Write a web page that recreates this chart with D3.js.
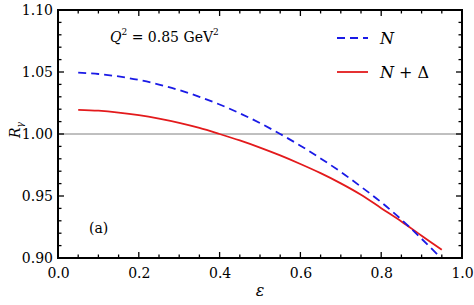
<!DOCTYPE html>
<html><head><meta charset="utf-8">
<script src="https://cdn.jsdelivr.net/npm/d3@7/dist/d3.min.js"></script>
<style>
body{margin:0;background:#fff;}
</style></head>
<body><svg id="c" width="474" height="305"></svg>
<script>
const eps = [0.05,0.10,0.15,0.20,0.25,0.30,0.35,0.40,0.45,0.50,0.55,0.60,0.65,0.70,0.75,0.80,0.85,0.90,0.95];
const seriesN = [1.0495,1.0484,1.0464,1.0436,1.0399,1.0354,1.0300,1.0238,1.0167,1.0088,1.0000,0.9906,0.9803,0.9694,0.9575,0.9450,0.9310,0.9155,0.8993];
const seriesND = [1.0195,1.0188,1.0173,1.0152,1.0124,1.0090,1.0049,1.0000,0.9948,0.9890,0.9827,0.9758,0.9684,0.9602,0.9510,0.9402,0.9295,0.9180,0.9066];
const xTicks = [0,0.2,0.4,0.6,0.8,1.0];
const yTicks = [0.90,0.95,1.00,1.05,1.10];

const FONT = '"DejaVu Serif","Liberation Serif",serif';
const svg = d3.select("#c").attr("font-family",FONT);
const L=58,R=462,T=10,B=258;
const x = d3.scaleLinear().domain([0,1]).range([L,R]);
const y = d3.scaleLinear().domain([0.90,1.10]).range([B,T]);

svg.append("line").attr("x1",L).attr("x2",R).attr("y1",y(1)).attr("y2",y(1))
  .attr("stroke","#808080").attr("stroke-width",1);

svg.append("clipPath").attr("id","cl").append("rect")
  .attr("x",L).attr("y",T).attr("width",R-L).attr("height",B-T);

const line = d3.line().x((d,i)=>x(eps[i])).y(d=>y(d)).curve(d3.curveCatmullRom);
svg.append("path").datum(seriesND).attr("d",line).attr("fill","none")
  .attr("stroke","#e31a1c").attr("stroke-width",1.8).attr("clip-path","url(#cl)");
svg.append("path").datum(seriesN).attr("d",line).attr("fill","none")
  .attr("stroke","#1a1ae6").attr("stroke-width",1.8).attr("stroke-dasharray","8,5").attr("clip-path","url(#cl)");

const minorX = d3.range(0,1.0001,0.05);
const minorY = d3.range(0.90,1.1001,0.01);
function isMajor(v,step){return Math.abs(v/step-Math.round(v/step))<1e-6;}
const bottom = d3.axisBottom(x).tickValues(xTicks).tickFormat(d3.format(".1f")).tickSize(0).tickPadding(10);
const gB = svg.append("g").attr("transform",`translate(0,${B})`).call(bottom);
const left = d3.axisLeft(y).tickValues(yTicks).tickFormat(d3.format(".2f")).tickSize(0).tickPadding(5);
const gL = svg.append("g").attr("transform",`translate(${L},0)`).call(left);
[gB,gL].forEach(g=>{g.select(".domain").remove(); g.attr("font-family",FONT);
  g.selectAll("text").attr("font-size",14).attr("fill","#000");});
gL.selectAll("text").attr("dy","0.35em");

const tk = svg.append("g").attr("stroke","#000").attr("stroke-width",1.3);
minorX.forEach(v=>{
  const len = isMajor(v,0.2)?6:3.5;
  tk.append("line").attr("x1",x(v)).attr("x2",x(v)).attr("y1",B).attr("y2",B-len);
  tk.append("line").attr("x1",x(v)).attr("x2",x(v)).attr("y1",T).attr("y2",T+len);
});
minorY.forEach(v=>{
  const len = isMajor(v-0.9,0.05)?6:3.5;
  tk.append("line").attr("x1",L).attr("x2",L+len).attr("y1",y(v)).attr("y2",y(v));
  tk.append("line").attr("x1",R).attr("x2",R-len).attr("y1",y(v)).attr("y2",y(v));
});
svg.append("rect").attr("x",L).attr("y",T).attr("width",R-L).attr("height",B-T)
  .attr("fill","none").attr("stroke","#000").attr("stroke-width",2);

const yl = svg.append("text").attr("transform",`translate(20,130) rotate(-90)`).attr("text-anchor","middle")
  .attr("font-size",14);
yl.append("tspan").attr("font-style","italic").text("R");
yl.append("tspan").attr("font-style","italic").attr("font-size",9).attr("dy",3).text("γ");
svg.append("text").attr("x",260).attr("y",296).attr("text-anchor","middle").attr("font-style","italic")
  .attr("font-size",16).text("ε");

const q = svg.append("text").attr("x",110).attr("y",42).attr("font-size",14);
q.append("tspan").attr("font-style","italic").text("Q");
q.append("tspan").attr("font-size",9).attr("dy",-7).text("2");
q.append("tspan").attr("dy",7).text(" = 0.85 GeV");
q.append("tspan").attr("font-size",9).attr("dy",-7).text("2");

svg.append("text").attr("x",89).attr("y",233).attr("font-size",14).text("(a)");

const leg = [{c:"#1a1ae6",dash:"8,5",yy:38},{c:"#e31a1c",dash:null,yy:72}];
leg.forEach(d=>{
  svg.append("line").attr("x1",337).attr("x2",368).attr("y1",d.yy).attr("y2",d.yy)
    .attr("stroke",d.c).attr("stroke-width",1.8).attr("stroke-dasharray",d.dash);
});
svg.append("text").attr("x",380).attr("y",44).attr("font-size",16).attr("font-style","italic").text("N");
const t2 = svg.append("text").attr("x",380).attr("y",78).attr("font-size",16);
t2.append("tspan").attr("font-style","italic").text("N");
t2.append("tspan").text(" + Δ");
</script></body></html>
